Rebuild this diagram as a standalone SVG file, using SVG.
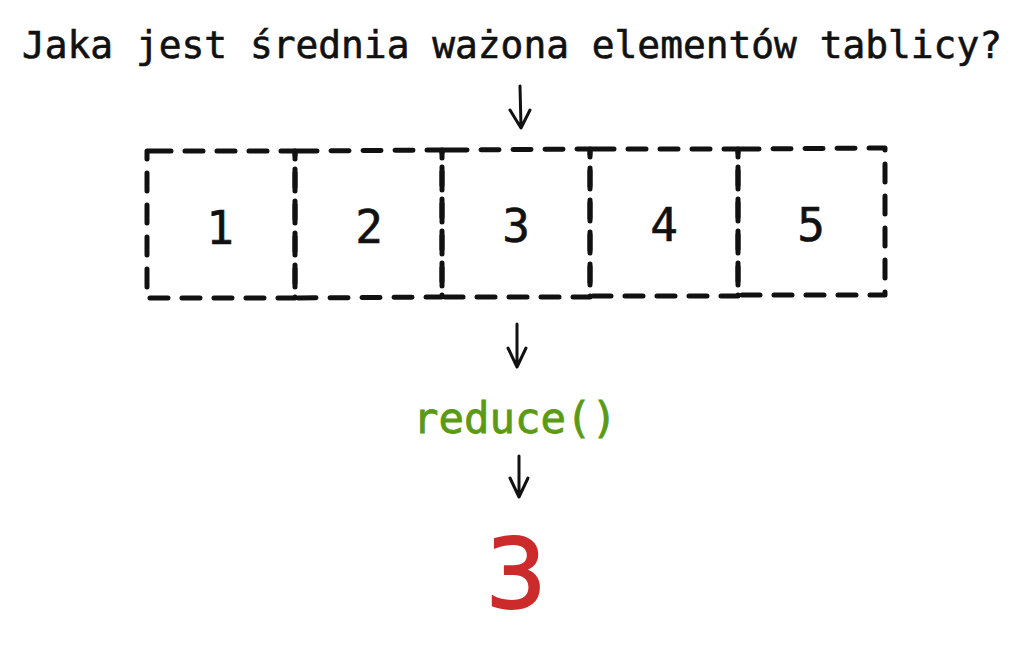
<svg xmlns="http://www.w3.org/2000/svg" width="1024" height="645" viewBox="0 0 1024 645">
<style>
.t{font-family:"DejaVu Sans Mono","Liberation Mono",monospace;fill:#111;stroke:#111;stroke-width:0.6}
.box{fill:none;stroke:#111;stroke-width:5;stroke-dasharray:18 14;stroke-linecap:round;stroke-linejoin:round}
.arr{fill:none;stroke:#111;stroke-width:3;stroke-linecap:round;stroke-linejoin:round}
.d{font-family:"DejaVu Sans Mono","Liberation Mono",monospace;font-size:46px;fill:#111;text-anchor:middle;stroke:#111;stroke-width:0.6}
</style>
<rect width="1024" height="645" fill="#fff"/>
<g id="title"><text class="t" x="22" y="58" font-size="37" textLength="980" lengthAdjust="spacingAndGlyphs">Jaka jest średnia ważona elementów tablicy?</text></g>
<g id="connectors">
<path class="arr" d="M520 86 L521 127 M510 110 L521 128 L530 110"/>
<path class="arr" d="M517 324 L517 366 M508 348 L517 367 L526 348"/>
<path class="arr" d="M519 456 L519 496 M510 478 L519 497 L528 478"/>
</g>
<g id="box1"><path class="box" d="M157 151 L147 151 L147 298 L295 298 L295 151 Z"/><text class="d" x="220" y="244">1</text></g>
<g id="box2"><path class="box" d="M305 151 L295 151 L295 298 L442 297 L442 150 Z"/><text class="d" x="369" y="243">2</text></g>
<g id="box3"><path class="box" d="M452 150 L442 150 L442 297 L590 297 L590 149 Z"/><text class="d" x="516" y="242">3</text></g>
<g id="box4"><path class="box" d="M600 149 L590 149 L590 296 L738 296 L738 149 Z"/><text class="d" x="664" y="241">4</text></g>
<g id="box5"><path class="box" d="M748 149 L738 149 L738 295 L885 295 L885 148 Z"/><text class="d" x="811" y="241">5</text></g>
<g id="reduce"><text x="413" y="433" font-family="DejaVu Sans Mono,Liberation Mono,monospace" font-size="42" fill="#5b9a14" stroke="#5b9a14" stroke-width="0.8" textLength="204" lengthAdjust="spacingAndGlyphs">reduce()</text></g>
<g id="result"><text x="516" y="608" font-family="DejaVu Sans,Liberation Sans,sans-serif" font-size="96" fill="#cc2b2b" stroke="#cc2b2b" stroke-width="2" text-anchor="middle">3</text></g>
</svg>
